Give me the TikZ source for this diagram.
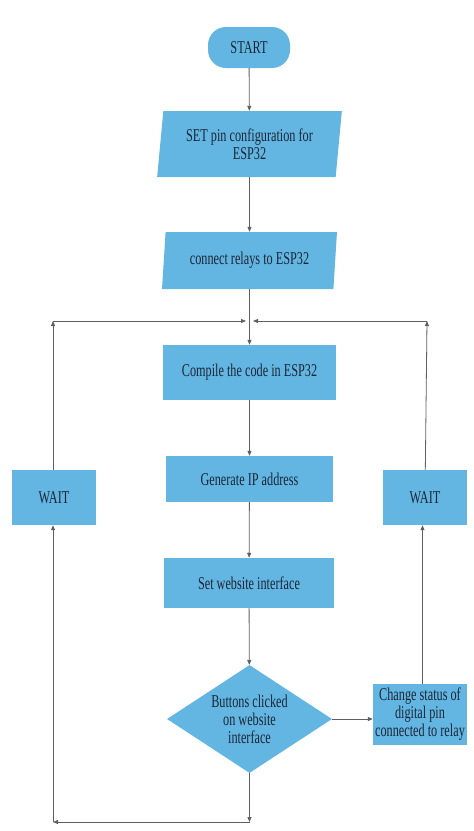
\documentclass[tikz,border=0pt]{standalone}
\usepackage{fontspec}
\setmainfont{Liberation Serif}[FakeStretch=0.68]
\usepackage{tikz}
\usetikzlibrary{positioning,shapes.geometric,arrows.meta}
\definecolor{boxblue}{RGB}{98,182,225}
\definecolor{boxtext}{RGB}{28,38,56}
\definecolor{linegray}{RGB}{95,95,95}

\begin{document}
\begin{tikzpicture}[x=1pt,y=-1pt,
    box/.style={rectangle,fill=boxblue,text=boxtext,inner sep=1pt,align=center,font=\fontsize{18}{18}\selectfont},
    io/.style={box,trapezium,trapezium left angle=82,trapezium right angle=98,trapezium stretches=true},
    flow/.style={draw=linegray,line width=0.8pt,-{Triangle[length=5pt,width=4pt]}},
    plain/.style={draw=linegray,line width=0.8pt}]
  \useasboundingbox (0,0) rectangle (474,831);
  \node[box,rounded corners=18pt,minimum width=82pt,minimum height=41pt](start) at (249,47.5){START};
  \node[io,minimum width=185pt,minimum height=66pt](setpin) at (249.5,144){SET pin configuration for\\ESP32};
  \node[io,minimum width=175pt,minimum height=57pt](relays) at (249.5,260.5){connect relays to ESP32};
  \node[box,minimum width=173pt,minimum height=55pt](compile) at (249.5,372.5){Compile the code in ESP32};
  \node[box,minimum width=167pt,minimum height=46pt](genip) at (249.5,479){Generate IP address};
  \node[box,minimum width=170pt,minimum height=50pt](website) at (249,583){Set website interface};
  \node[box,diamond,aspect=1.5,inner sep=-3pt,minimum width=165pt,minimum height=108pt](clicked) at (249.5,719){Buttons clicked\\on website\\interface};
  \node[box,minimum width=94pt,minimum height=61pt](change) at (420,714.5){Change status of\\digital pin\\connected to relay};
  \node[box,minimum width=84pt,minimum height=55pt](waitl) at (54,497.5){WAIT};
  \node[box,minimum width=84pt,minimum height=55pt](waitr) at (425,497.5){WAIT};
  % junctions of the loop lines
  \coordinate (topl) at (53,321);
  \coordinate (topr) at (427,321);
  \coordinate (joinl) at (246,321);
  \coordinate (joinr) at (253,321);
  \coordinate (botc) at (249.5,822);
  \coordinate (botl) at (53,822);
  \coordinate (upr) at (422.5,684);
  \draw[flow] (start) -- (setpin);
  \draw[flow] (setpin) -- (relays);
  \draw[flow] (relays) -- (compile);
  \draw[flow] (compile) -- (genip);
  \draw[flow] (genip) -- (website);
  \draw[flow] (website) -- (clicked);
  \draw[flow] (clicked.east) -- (clicked.east -| change.west);
  \draw[flow] (upr) -- (upr |- waitr.south);
  \draw[flow] (waitr) -- (topr);
  \draw[flow] (topr) -- (joinr);
  \draw[flow] (topl |- waitl.north) -- (topl);
  \draw[flow] (topl) -- (joinl);
  \draw[flow] (clicked) -- (botc);
  \draw[flow] (botc) -- (botl);
  \draw[flow] (botl) -- (botl |- waitl.south);
\end{tikzpicture}
\end{document}
